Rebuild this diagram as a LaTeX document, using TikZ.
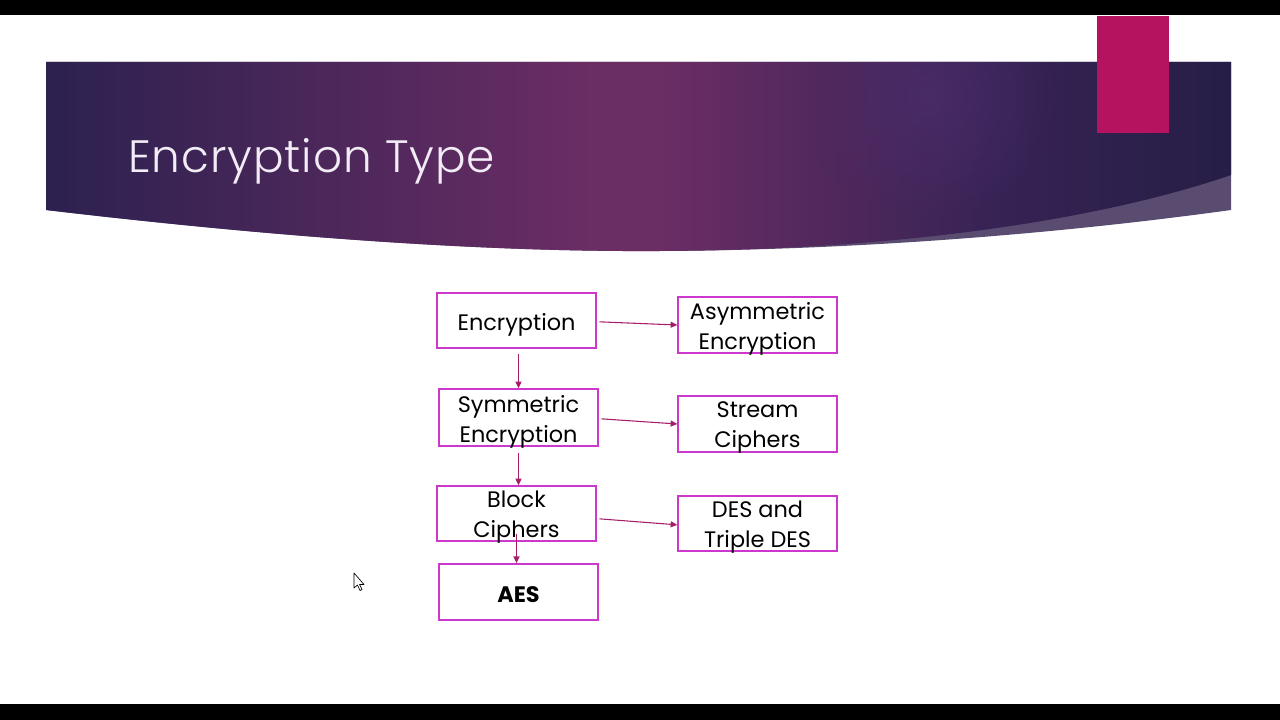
\documentclass[tikz,border=0pt]{standalone}
\usepackage{fontspec}
\setmainfont{Poppins}
\newfontfamily\titlefont{Poppins Light}[LetterSpace=2]
\usetikzlibrary{arrows.meta,calc,fadings}
\definecolor{boxline}{RGB}{204,55,204}
\definecolor{arrowc}{RGB}{165,30,105}
\definecolor{pinkbar}{RGB}{181,18,96}
\definecolor{bnA}{RGB}{44,33,80}
\definecolor{bnB}{RGB}{106,45,100}
\definecolor{bnC}{RGB}{55,35,85}
\definecolor{bnD}{RGB}{38,30,70}
\definecolor{glowc}{RGB}{78,46,110}
\definecolor{sliver}{RGB}{90,76,112}
\definecolor{titlec}{RGB}{242,236,246}
\pgfdeclarehorizontalshading{bannershade}{100bp}{color(0bp)=(bnA); color(25bp)=(bnA); color(48bp)=(bnB); color(51bp)=(bnB); color(65bp)=(bnC); color(75bp)=(bnD); color(100bp)=(bnD)}
\tikzfading[name=glowfade, inner color=transparent!0, outer color=transparent!100]
\tikzset{
  box/.style={draw=boxline, line width=1.3pt, fill=white, minimum width=119pt, inner sep=0pt},
  lab/.style={inner sep=0pt, align=center, font=\fontsize{16.8}{22.5}\selectfont, text=black},
  arr/.style={draw=arrowc, line width=0.8pt, -{Triangle[length=5pt,width=4.5pt]}}
}
\begin{document}
\begin{tikzpicture}[x=0.75pt,y=-0.75pt]
\useasboundingbox (0,0) rectangle (1280,720);
\fill[white] (0,0) rectangle (1280,720);
\fill[black] (0,0) rectangle (1280,15.5);
\fill[black] (0,704) rectangle (1280,720);
% banner
\fill[sliver] (46,62) -- (1231,62) -- (1231,210) .. controls (1050,235) and (850,250) .. (660,251) .. controls (500,252) and (300,240) .. (46,210) -- cycle;
\shade[shading=bannershade] (46,62) -- (1231,62) -- (1231,175) .. controls (1100,220) and (900,250) .. (660,251) .. controls (500,252) and (300,240) .. (46,210) -- cycle;
\begin{scope}
\clip (46,62) -- (1231,62) -- (1231,175) .. controls (1100,220) and (900,250) .. (660,251) -- (660,62) -- cycle;
\fill[glowc, path fading=glowfade, fill opacity=0.6] (930,95) circle[radius=130];
\end{scope}
\fill[pinkbar] (1097,16) rectangle (1169,133);
\node[anchor=base west, inner sep=0pt, text=titlec, font=\titlefont\fontsize{34}{40}\selectfont] (title) at (128,173) {Encryption Type};
% boxes
\node[box, minimum height=41pt, label={[lab,yshift=-3pt]center:Encryption}] (enc) at (516.5,320.5) {};
\node[box, minimum height=42pt, label={[lab,yshift=-3pt]center:{Asymmetric\\Encryption}}] (asym) at (757.5,325) {};
\node[box, minimum height=42.5pt, label={[lab,yshift=-3pt]center:{Symmetric\\Encryption}}] (sym) at (518.5,417.5) {};
\node[box, minimum height=42pt, label={[lab,yshift=-3pt]center:{Stream\\Ciphers}}] (stream) at (757.5,424) {};
\node[box, minimum height=41pt, label={[lab,yshift=-3pt]center:{Block\\Ciphers}}] (block) at (516.5,513.5) {};
\node[box, minimum height=41pt, label={[lab,yshift=-3pt]center:{DES and\\Triple DES}}] (des) at (757.5,523.5) {};
\node[box, minimum height=42pt, label={[lab,yshift=-2pt,font=\fontsize{16.8}{22.5}\selectfont\bfseries]center:AES}] (aes) at (518.5,592) {};
% connectors
\draw[arr] ([xshift=2pt,yshift=-1pt]enc.east) -- (asym.west);
\draw[arr] ([xshift=2pt,yshift=-1pt]sym.east) -- (stream.west);
\draw[arr] ([xshift=2pt,yshift=-4pt]block.east) -- ([yshift=-1pt]des.west);
\draw[arr] ([yshift=-4pt]sym.north |- enc.south) -- (sym.north);
\draw[arr] ([yshift=-4.5pt]sym.south) -- (sym.south |- block.north);
\draw[arr] ([yshift=6pt]block.south) -- (block.south |- aes.north);
% mouse cursor
\draw[black, fill=white, line width=0.5pt, line join=round] (354,573) -- (354,588) -- (357.5,585) -- (360,590.5) -- (362,589.5) -- (359.5,584.5) -- (364,584.5) -- cycle;
\end{tikzpicture}
\end{document}
